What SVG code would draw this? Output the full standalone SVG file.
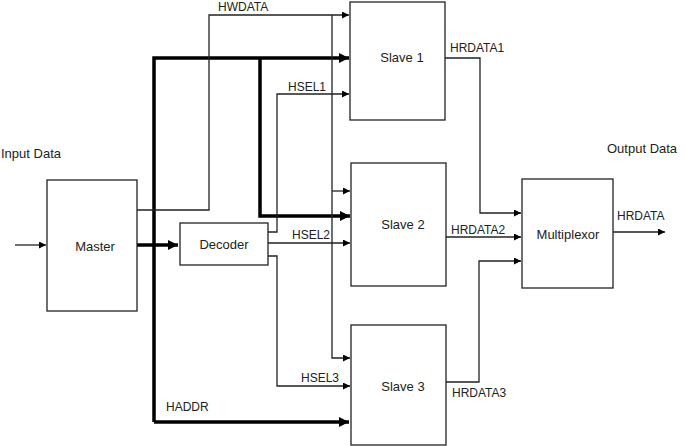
<svg xmlns="http://www.w3.org/2000/svg" width="685" height="446" viewBox="0 0 685 446">
<defs>
<marker id="a" viewBox="0 0 10 10" refX="10" refY="5" markerWidth="8" markerHeight="7" markerUnits="userSpaceOnUse" orient="auto"><path d="M0,0L10,5L0,10z" fill="#000"/></marker>
<marker id="ab" viewBox="0 0 10 10" refX="10" refY="5" markerWidth="11" markerHeight="10" markerUnits="userSpaceOnUse" orient="auto"><path d="M0,0L10,5L0,10z" fill="#000"/></marker>
</defs>
<style>
.box{fill:#fff;stroke:#222;stroke-width:1.3}
.t{font-family:"Liberation Sans",Arial,sans-serif;font-size:13px;fill:#222;text-anchor:middle}
.l{font-family:"Liberation Sans",Arial,sans-serif;font-size:12px;fill:#222}
.w{fill:none;stroke:#222;stroke-width:1.3}
.b{fill:none;stroke:#000;stroke-width:3.5}
</style>
<rect width="685" height="446" fill="#fff"/>
<g id="connectors">
<path class="w" d="M15,245H46" marker-end="url(#a)"/>
<path class="b" d="M137,245H178" marker-end="url(#ab)"/>
<path class="b" d="M154,422V58H349" marker-end="url(#ab)"/>
<path class="b" d="M154,422H349" marker-end="url(#ab)"/>
<path class="b" d="M260,58V216H350" marker-end="url(#ab)"/>
<path class="w" d="M137,210H209V15H349" marker-end="url(#a)"/>
<path class="w" d="M332,15V358H350" marker-end="url(#a)"/>
<path class="w" d="M332,191H350" marker-end="url(#a)"/>
<path class="w" d="M268,232H277V94H349" marker-end="url(#a)"/>
<path class="w" d="M268,243H350" marker-end="url(#a)"/>
<path class="w" d="M268,256H277V386H350" marker-end="url(#a)"/>
<path class="w" d="M445,58H480V213H521" marker-end="url(#a)"/>
<path class="w" d="M446,237H521" marker-end="url(#a)"/>
<path class="w" d="M446,382H479V261H521" marker-end="url(#a)"/>
<path class="w" d="M613,232H665" marker-end="url(#a)"/>
</g>
<g id="master"><rect class="box" x="47" y="180" width="90" height="131"/><text class="t" x="95" y="251">Master</text></g>
<g id="decoder"><rect class="box" x="180" y="223" width="88" height="42"/><text class="t" x="224" y="249">Decoder</text></g>
<g id="slave1"><rect class="box" x="350" y="2" width="95" height="118"/><text class="t" x="402" y="62">Slave 1</text></g>
<g id="slave2"><rect class="box" x="351" y="163" width="95" height="123"/><text class="t" x="403" y="229">Slave 2</text></g>
<g id="slave3"><rect class="box" x="351" y="325" width="95" height="120"/><text class="t" x="403" y="391">Slave 3</text></g>
<g id="mux"><rect class="box" x="522" y="179" width="91" height="109"/><text class="t" x="568" y="239">Multiplexor</text></g>
<g id="labels">
<text class="t" x="1" y="158" style="text-anchor:start">Input Data</text>
<text class="t" x="607" y="153" style="text-anchor:start">Output Data</text>
<text class="l" x="218" y="11">HWDATA</text>
<text class="l" x="288" y="91">HSEL1</text>
<text class="l" x="292" y="239">HSEL2</text>
<text class="l" x="301" y="382">HSEL3</text>
<text class="l" x="166" y="411">HADDR</text>
<text class="l" x="450" y="52">HRDATA1</text>
<text class="l" x="451" y="234">HRDATA2</text>
<text class="l" x="452" y="397">HRDATA3</text>
<text class="l" x="617" y="220">HRDATA</text>
</g>
</svg>
